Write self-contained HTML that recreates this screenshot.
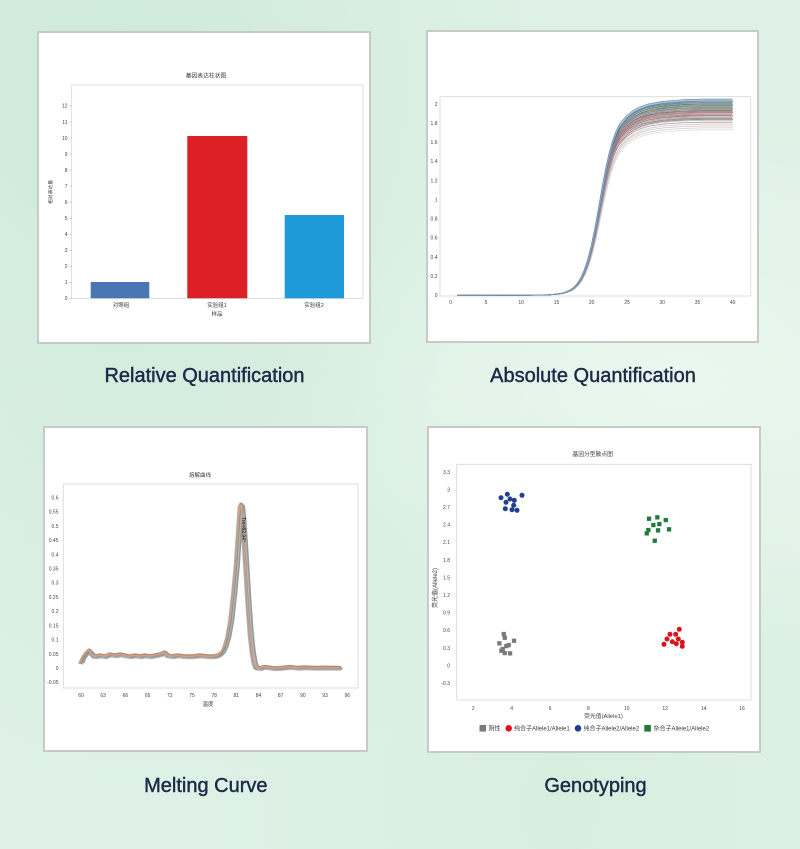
<!DOCTYPE html>
<html><head><meta charset="utf-8">
<style>
html,body{margin:0;padding:0;}
body{width:800px;height:849px;overflow:hidden;
background:
radial-gradient(ellipse at 15% 10%, rgba(200,232,212,0.8), rgba(200,232,212,0) 45%),
radial-gradient(ellipse at 85% 45%, rgba(236,248,240,0.9), rgba(236,248,240,0) 40%),
radial-gradient(ellipse at 20% 60%, rgba(210,236,220,0.7), rgba(210,236,220,0) 40%),
radial-gradient(ellipse at 70% 95%, rgba(214,238,222,0.8), rgba(214,238,222,0) 45%),
#dff1e6;}
svg{display:block;}
.t{font-family:"Liberation Sans","Noto Sans CJK SC",sans-serif;fill:#3a3a3a;}
.tk{font-family:"Liberation Sans",sans-serif;font-size:5px;fill:#444;}
.cap{font-family:"Liberation Sans",sans-serif;font-size:20px;fill:#1b2b48;stroke:#1b2b48;stroke-width:0.45px;text-anchor:middle;}
</style></head>
<body>
<svg width="800" height="849" viewBox="0 0 800 849" xmlns="http://www.w3.org/2000/svg">
<defs>
<polyline id="amp" fill="none" vector-effect="non-scaling-stroke" stroke-linejoin="round" points="1,0 12,-0.001 14,-0.003 15,-0.006 16,-0.012 17,-0.027 17.5,-0.04 18,-0.06 18.5,-0.088 19,-0.128 19.5,-0.182 20,-0.253 20.5,-0.339 21,-0.438 21.5,-0.542 22,-0.638 22.5,-0.72 23,-0.785 23.5,-0.835 24,-0.872 25,-0.915 26,-0.944 27,-0.962 28,-0.975 30,-0.988 33,-0.997 36,-1 40,-1"/>
<path id="melt" fill="none" stroke-linejoin="round" d="M81,662 L83,657 L86,653 L89,650 L92,653 L95,656 L100,655 L105,656 L110,654 L115,655 L120,654 L125,655 L130,656 L135,655 L140,656 L145,655 L150,656 L155,655 L160,654 L165,652 L168,655 L172,656 L178,655 L185,656 L192,656 L200,655 L208,656 L214,656 L218,655 L222,652 L225,646 L228,636 L231,619 L234,592 L236.5,565 L238.5,535 L240,513 L240.7,504 L241.8,505 L243,518 L244.5,540 L246.5,572 L248.5,605 L250.5,632 L252.5,651 L254.5,662 L256.5,667 L260,668 L264,666.5 L268,667 L275,668 L282,667.5 L290,666.5 L297,667.5 L305,667 L315,667.5 L325,667.3 L340,667.5"/>
</defs>

<!-- ============ Panel 1: bar chart ============ -->
<rect x="38" y="32" width="332" height="311" fill="#fff" stroke="#c6cbc7" stroke-width="2"/>
<text class="t" x="206" y="77.5" font-size="5.8" text-anchor="middle">基因表达柱状图</text>
<rect x="71.7" y="85" width="291.3" height="213.3" fill="#fff" stroke="#d6d6d6" stroke-width="0.8"/>
<g stroke="#999" stroke-width="0.5">
<line x1="69.5" y1="298.3" x2="71.7" y2="298.3"/><line x1="69.5" y1="282.3" x2="71.7" y2="282.3"/><line x1="69.5" y1="266.2" x2="71.7" y2="266.2"/><line x1="69.5" y1="250.2" x2="71.7" y2="250.2"/><line x1="69.5" y1="234.2" x2="71.7" y2="234.2"/><line x1="69.5" y1="218.2" x2="71.7" y2="218.2"/><line x1="69.5" y1="202.1" x2="71.7" y2="202.1"/><line x1="69.5" y1="186.1" x2="71.7" y2="186.1"/><line x1="69.5" y1="170.1" x2="71.7" y2="170.1"/><line x1="69.5" y1="154" x2="71.7" y2="154"/><line x1="69.5" y1="138" x2="71.7" y2="138"/><line x1="69.5" y1="122" x2="71.7" y2="122"/><line x1="69.5" y1="105.9" x2="71.7" y2="105.9"/>
</g>
<g class="tk" text-anchor="end">
<text x="67.5" y="300">0</text><text x="67.5" y="284">1</text><text x="67.5" y="268">2</text><text x="67.5" y="252">3</text><text x="67.5" y="236">4</text><text x="67.5" y="220">5</text><text x="67.5" y="203.9">6</text><text x="67.5" y="187.9">7</text><text x="67.5" y="171.9">8</text><text x="67.5" y="155.8">9</text><text x="67.5" y="139.8">10</text><text x="67.5" y="123.8">11</text><text x="67.5" y="107.7">12</text>
</g>
<rect x="90.7" y="282" width="58.6" height="16.3" fill="#4a77b4"/>
<rect x="187.3" y="136" width="60" height="162.3" fill="#dd1f26"/>
<rect x="284.7" y="215" width="59.3" height="83.3" fill="#1f9ad9"/>
<text class="t" x="121" y="307" font-size="5.5" text-anchor="middle">对照组</text>
<text class="t" x="217" y="307" font-size="5.5" text-anchor="middle">实验组1</text>
<text class="t" x="314" y="307" font-size="5.5" text-anchor="middle">实验组2</text>
<text class="t" x="217" y="316" font-size="5.5" text-anchor="middle">样品</text>
<text class="t" font-size="4.8" text-anchor="middle" transform="translate(52,192) rotate(-90)">相对表达量</text>

<!-- ============ Panel 2: amplification ============ -->
<rect x="427" y="31" width="331" height="311" fill="#fff" stroke="#c6cbc7" stroke-width="2"/>
<rect x="440" y="96.7" width="310.7" height="199.3" fill="#fff" stroke="#d6d6d6" stroke-width="0.8"/>
<g class="tk" text-anchor="end">
<text x="437.5" y="297">0</text><text x="437.5" y="278">0.2</text><text x="437.5" y="258.8">0.4</text><text x="437.5" y="239.7">0.6</text><text x="437.5" y="220.6">0.8</text><text x="437.5" y="201.5">1</text><text x="437.5" y="182.3">1.2</text><text x="437.5" y="163.2">1.4</text><text x="437.5" y="144.1">1.6</text><text x="437.5" y="125">1.8</text><text x="437.5" y="105.8">2</text>
</g>
<g class="tk" text-anchor="middle">
<text x="450.7" y="304">0</text><text x="486" y="304">5</text><text x="521.2" y="304">10</text><text x="556.5" y="304">15</text><text x="591.7" y="304">20</text><text x="627" y="304">25</text><text x="662.2" y="304">30</text><text x="697.5" y="304">35</text><text x="732.7" y="304">40</text>
</g>
<g stroke-width="0.8" fill="none">
<use href="#amp" stroke="#dcdcdc" transform="translate(451.7,295.3) scale(7.05,165.5)"/>
<use href="#amp" stroke="#d8c8c8" transform="translate(451.2,295.3) scale(7.05,167.4)"/>
<use href="#amp" stroke="#c8c8c8" transform="translate(450.7,295.3) scale(7.05,169.3)"/>
<use href="#amp" stroke="#d0c0c0" transform="translate(451.2,295.3) scale(7.05,171.2)"/>
<use href="#amp" stroke="#b89090" transform="translate(450.2,295.3) scale(7.05,173.1)"/>
<use href="#amp" stroke="#c0c0c0" transform="translate(450.7,295.3) scale(7.05,175.0)"/>
<use href="#amp" stroke="#a08080" transform="translate(451.2,295.3) scale(7.05,176.0)"/>
<use href="#amp" stroke="#7090a0" transform="translate(450.2,295.3) scale(7.05,177.0)"/>
<use href="#amp" stroke="#c9a0a0" transform="translate(450.7,295.3) scale(7.05,177.9)"/>
<use href="#amp" stroke="#b0b0b0" transform="translate(451.2,295.3) scale(7.05,178.9)"/>
<use href="#amp" stroke="#a07050" transform="translate(450.7,295.3) scale(7.05,179.8)"/>
<use href="#amp" stroke="#909090" transform="translate(450.2,295.3) scale(7.05,180.8)"/>
<use href="#amp" stroke="#d09090" transform="translate(450.7,295.3) scale(7.05,181.7)"/>
<use href="#amp" stroke="#8f6fa0" transform="translate(451.2,295.3) scale(7.05,182.7)"/>
<use href="#amp" stroke="#c07070" transform="translate(450.7,295.3) scale(7.05,183.6)"/>
<use href="#amp" stroke="#507050" transform="translate(450.2,295.3) scale(7.05,184.6)"/>
<use href="#amp" stroke="#b08a8a" transform="translate(450.7,295.3) scale(7.05,185.6)"/>
<use href="#amp" stroke="#5d9fbf" transform="translate(451.2,295.3) scale(7.05,186.5)"/>
<use href="#amp" stroke="#a06060" transform="translate(450.7,295.3) scale(7.05,187.5)"/>
<use href="#amp" stroke="#7aa070" transform="translate(450.2,295.3) scale(7.05,188.4)"/>
<use href="#amp" stroke="#2f8a7a" transform="translate(450.7,295.3) scale(7.05,189.4)"/>
<use href="#amp" stroke="#c08080" transform="translate(451.2,295.3) scale(7.05,190.3)"/>
<use href="#amp" stroke="#3f6f8f" transform="translate(450.7,295.3) scale(7.05,191.3)"/>
<use href="#amp" stroke="#888888" transform="translate(450.2,295.3) scale(7.05,192.3)"/>
<use href="#amp" stroke="#4a9a8a" transform="translate(450.7,295.3) scale(7.05,193.2)"/>
<use href="#amp" stroke="#5a7fa0" transform="translate(451.2,295.3) scale(7.05,194.2)"/>
<use href="#amp" stroke="#9fb8c9" transform="translate(450.7,295.3) scale(7.05,195.1)"/>
<use href="#amp" stroke="#6c8fb5" transform="translate(450.2,295.3) scale(7.05,196.1)"/>
</g>

<!-- ============ Panel 3: melting curve ============ -->
<rect x="44" y="427" width="323" height="324" fill="#fff" stroke="#c6cbc7" stroke-width="2"/>
<text class="t" x="200" y="477" font-size="5.5" text-anchor="middle">熔解曲线</text>
<rect x="63.3" y="484" width="294.7" height="204" fill="#fff" stroke="#d6d6d6" stroke-width="0.8"/>
<g class="tk" text-anchor="end">
<text x="58.5" y="684.2">-0.05</text><text x="58.5" y="670">0</text><text x="58.5" y="655.8">0.05</text><text x="58.5" y="641.6">0.1</text><text x="58.5" y="627.4">0.15</text><text x="58.5" y="613.1">0.2</text><text x="58.5" y="598.9">0.25</text><text x="58.5" y="584.7">0.3</text><text x="58.5" y="570.5">0.35</text><text x="58.5" y="556.3">0.4</text><text x="58.5" y="542.1">0.45</text><text x="58.5" y="527.9">0.5</text><text x="58.5" y="513.6">0.55</text><text x="58.5" y="499.4">0.6</text>
</g>
<g class="tk" text-anchor="middle">
<text x="81" y="697">60</text><text x="103.2" y="697">63</text><text x="125.4" y="697">66</text><text x="147.6" y="697">69</text><text x="169.8" y="697">72</text><text x="192" y="697">75</text><text x="214.1" y="697">78</text><text x="236.3" y="697">81</text><text x="258.5" y="697">84</text><text x="280.7" y="697">87</text><text x="302.9" y="697">90</text><text x="325.1" y="697">93</text><text x="347.3" y="697">96</text>
</g>
<text class="t" x="208" y="706" font-size="5.5" text-anchor="middle">温度</text>
<g fill="none" stroke-width="1.5">
<use href="#melt" stroke="#b5b5b5" transform="translate(-2.2,2)"/>
<use href="#melt" stroke="#a9a9a9" transform="translate(-1.6,1.5)"/>
<use href="#melt" stroke="#8f8f8f" transform="translate(-1,0.8)"/>
<use href="#melt" stroke="#c49a80" transform="translate(-0.5,-1)"/>
<use href="#melt" stroke="#7a7a7a" transform="translate(0,1.6)"/>
<use href="#melt" stroke="#9fb0b0" transform="translate(0.5,0)"/>
<use href="#melt" stroke="#b08070" transform="translate(1,-0.6)"/>
<use href="#melt" stroke="#8c8c8c" transform="translate(1.5,1)"/>
<use href="#melt" stroke="#a0a0a0" transform="translate(2,0.4)"/>
<use href="#melt" stroke="#6f8f8f" transform="translate(0.2,2.2)"/>
<use href="#melt" stroke="#b5b5b5" transform="translate(1.2,2.5)"/>
<use href="#melt" stroke="#999999" transform="translate(2.6,1.2)"/>
<use href="#melt" stroke="#d4a080" transform="translate(-0.8,0.2)"/>
</g>
<text class="t" x="242" y="517" font-size="5" font-weight="bold" fill="#333" transform="rotate(90 242 517)">Tm=82.04°</text>

<!-- ============ Panel 4: genotyping ============ -->
<rect x="428" y="427" width="332" height="325" fill="#fff" stroke="#c6cbc7" stroke-width="2"/>
<text class="t" x="592.7" y="456" font-size="5.8" text-anchor="middle">基因分型散点图</text>
<rect x="456.7" y="464.3" width="294.3" height="235.7" fill="#fff" stroke="#d6d6d6" stroke-width="0.8"/>
<g class="tk" text-anchor="end">
<text x="450" y="685">-0.3</text><text x="450" y="667.4">0</text><text x="450" y="649.8">0.3</text><text x="450" y="632.2">0.6</text><text x="450" y="614.6">0.9</text><text x="450" y="597">1.2</text><text x="450" y="579.4">1.5</text><text x="450" y="561.8">1.8</text><text x="450" y="544.2">2.1</text><text x="450" y="526.6">2.4</text><text x="450" y="509">2.7</text><text x="450" y="491.4">3</text><text x="450" y="473.8">3.3</text>
</g>
<g class="tk" text-anchor="middle">
<text x="473.3" y="710">2</text><text x="511.7" y="710">4</text><text x="550.1" y="710">6</text><text x="588.4" y="710">8</text><text x="626.8" y="710">10</text><text x="665.2" y="710">12</text><text x="703.6" y="710">14</text><text x="742" y="710">16</text>
</g>
<text class="t" x="603.5" y="718" font-size="5.8" text-anchor="middle">荧光值(Allele1)</text>
<text class="t" font-size="6" text-anchor="middle" transform="translate(437,588) rotate(-90)">荧光值(Allele2)</text>
<!-- blue -->
<g fill="#1f3f8f">
<circle cx="501" cy="497.7" r="2.5"/><circle cx="507.3" cy="494.3" r="2.5"/><circle cx="510" cy="499" r="2.5"/><circle cx="514.3" cy="500.3" r="2.5"/><circle cx="522" cy="495.3" r="2.5"/><circle cx="506" cy="502.3" r="2.5"/><circle cx="513.7" cy="505.3" r="2.5"/><circle cx="505.3" cy="508.7" r="2.5"/><circle cx="512" cy="509.7" r="2.5"/><circle cx="517" cy="510.3" r="2.5"/>
</g>
<!-- green -->
<g fill="#1e7b3a">
<rect x="646.9" y="516.6" width="4.3" height="4.3"/><rect x="655.2" y="515.2" width="4.3" height="4.3"/><rect x="663.6" y="517.9" width="4.3" height="4.3"/><rect x="651.2" y="522.9" width="4.3" height="4.3"/><rect x="657.2" y="521.9" width="4.3" height="4.3"/><rect x="646.2" y="527.9" width="4.3" height="4.3"/><rect x="655.9" y="528.2" width="4.3" height="4.3"/><rect x="666.9" y="527.2" width="4.3" height="4.3"/><rect x="644.6" y="531.2" width="4.3" height="4.3"/><rect x="652.6" y="538.6" width="4.3" height="4.3"/>
</g>
<!-- red -->
<g fill="#d8141e">
<circle cx="679.3" cy="629.3" r="2.5"/><circle cx="670" cy="634.3" r="2.5"/><circle cx="675.7" cy="634.3" r="2.5"/><circle cx="667" cy="639" r="2.5"/><circle cx="672.3" cy="641.7" r="2.5"/><circle cx="678.3" cy="639" r="2.5"/><circle cx="664" cy="644.3" r="2.5"/><circle cx="676.3" cy="643.7" r="2.5"/><circle cx="682.3" cy="642.3" r="2.5"/><circle cx="682.3" cy="646.3" r="2.5"/>
</g>
<!-- gray -->
<g fill="#7a7a7a">
<rect x="501.6" y="631.9" width="4.3" height="4.3"/><rect x="502.6" y="635.6" width="4.3" height="4.3"/><rect x="497.2" y="641.2" width="4.3" height="4.3"/><rect x="511.9" y="638.6" width="4.3" height="4.3"/><rect x="506.6" y="642.9" width="4.3" height="4.3"/><rect x="504.2" y="643.9" width="4.3" height="4.3"/><rect x="500.6" y="646.9" width="4.3" height="4.3"/><rect x="499.2" y="648.6" width="4.3" height="4.3"/><rect x="502.6" y="650.9" width="4.3" height="4.3"/><rect x="507.9" y="651.2" width="4.3" height="4.3"/>
</g>
<!-- legend -->
<rect x="479.5" y="725" width="6.6" height="6.6" fill="#7a7a7a"/>
<text class="t" x="488.5" y="730.5" font-size="6">阴性</text>
<circle cx="508.7" cy="728.3" r="3.3" fill="#d8141e"/>
<text class="t" x="514" y="730.5" font-size="6">纯合子Allele1/Allele1</text>
<circle cx="578" cy="728.3" r="3.3" fill="#1f3f8f"/>
<text class="t" x="583.5" y="730.5" font-size="6">纯合子Allele2/Allele2</text>
<rect x="644.3" y="725" width="6.6" height="6.6" fill="#1e7b3a"/>
<text class="t" x="653.5" y="730.5" font-size="6">杂合子Allele1/Allele2</text>

<!-- captions -->
<text class="cap" x="204.5" y="382">Relative Quantification</text>
<text class="cap" x="593" y="382">Absolute Quantification</text>
<text class="cap" x="205.8" y="792">Melting Curve</text>
<text class="cap" x="595.5" y="792">Genotyping</text>
</svg>
</body></html>
